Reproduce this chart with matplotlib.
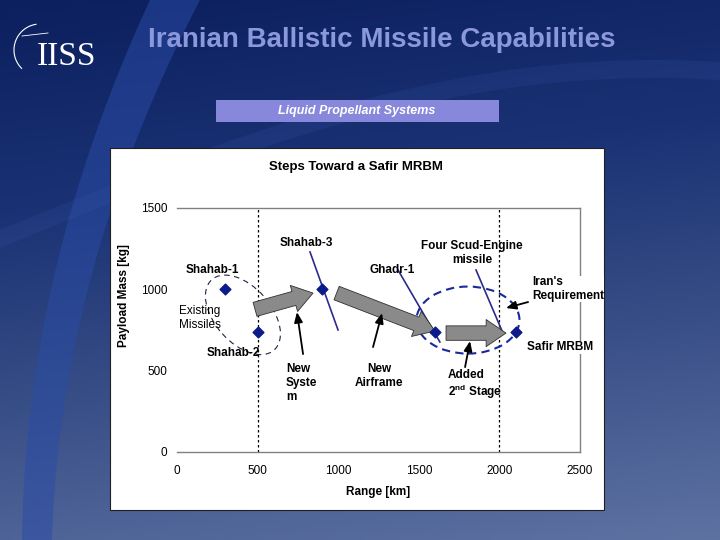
import numpy as np
import matplotlib
matplotlib.use('Agg')
import matplotlib.pyplot as plt
from matplotlib.patches import Ellipse, Rectangle, Polygon
from matplotlib.colors import LinearSegmentedColormap

plt.rcParams['font.family'] = ['Liberation Sans', 'DejaVu Sans']

# Datos de los misiles: alcance [km] y carga util [kg]
missiles = ['Shahab-1', 'Shahab-2', 'Shahab-3', 'Ghadr-1', 'Safir MRBM']
ranges_km = [300, 500, 900, 1600, 2100]
payload_kg = [1000, 740, 1000, 740, 740]

x_ticks = [0, 500, 1000, 1500, 2000, 2500]
y_ticks = [0, 500, 1000, 1500]
ref_ranges = [500, 2000]

navy = '#0c1a8a'
line_blue = '#2b2b8c'

fig = plt.figure(figsize=(7.2, 5.4), dpi=100)

# Fondo de la diapositiva
bg = fig.add_axes([0, 0, 1, 1])
bg.set_xlim(0, 720)
bg.set_ylim(540, 0)
bg.axis('off')
yy, xx = np.mgrid[0:1:200j, 0:1:200j]
grad = np.clip(yy * 0.85 + xx * 0.15, 0, 1)
cmap = LinearSegmentedColormap.from_list('slide', ['#0c1f5e', '#1a3274', '#3a5088', '#5e72a2'])
bg.imshow(grad, extent=[0, 720, 540, 0], cmap=cmap, aspect='auto', zorder=0)

# Curvas decorativas
t = np.linspace(0, 1, 100)
outer_x = 200 * (1 - t) ** 2 + 2 * (1 - t) * t * 60 + t ** 2 * 52
inner_x = 150 * (1 - t) ** 2 + 2 * (1 - t) * t * 25 + t ** 2 * 22
ys = 540 * t
band = np.column_stack([np.r_[outer_x, inner_x[::-1]], np.r_[ys, ys[::-1]]])
bg.add_patch(Polygon(band, closed=True, fc='#2a4ca8', ec='none', alpha=0.5, zorder=1))
arc_x = np.linspace(0, 720, 100)
arc_top = 230 - 170 * np.sin(np.linspace(0, np.pi * 0.55, 100))
arc_bot = arc_top + 18
arc = np.column_stack([np.r_[arc_x, arc_x[::-1]], np.r_[arc_top, arc_bot[::-1]]])
bg.add_patch(Polygon(arc, closed=True, fc='#3a58a8', ec='none', alpha=0.18, zorder=1))

# Logo y titulo
bg.text(66, 57, 'IISS', color='white', fontsize=24, family='Liberation Serif',
        ha='center', va='center', zorder=3)
a = np.linspace(np.pi * 0.55, np.pi * 1.25, 50)
bg.plot(40 + 26 * np.cos(a), 50 - 26 * np.sin(a), color='white', lw=0.8, zorder=3)
bg.plot([22, 48], [36, 33], color='white', lw=0.6, zorder=3)
bg.text(382, 40, 'Iranian Ballistic Missile Capabilities', color='#8c98dc',
        fontsize=20, fontweight='bold', ha='center', va='center', zorder=3)
bg.add_patch(Rectangle((216, 100), 283, 22, fc='#8787dc', ec='none', zorder=2))
bg.text(357, 111, 'Liquid Propellant Systems', color='white', fontsize=9,
        fontweight='bold', style='italic', ha='center', va='center', zorder=3)

# Panel blanco del grafico
bg.add_patch(Rectangle((110, 148), 494, 362, fc='white', ec='#202020', lw=0.8, zorder=2))
fig.text(356 / 720, 1 - 167 / 540, 'Steps Toward a Safir MRBM', fontsize=9.5,
         fontweight='bold', ha='center', va='center')

ax = fig.add_axes([177 / 720, 88 / 540, 403 / 720, 244 / 540])
ax.patch.set_alpha(0)
ax.set_xlim(0, 2500)
ax.set_ylim(0, 1500)
ax.set_xticks(x_ticks)
ax.set_yticks(y_ticks)
ax.tick_params(length=0, labelsize=8.5)
ax.tick_params(axis='x', pad=9)
ax.tick_params(axis='y', pad=7)
ax.spines['left'].set_visible(False)
for s in ['top', 'right', 'bottom']:
    ax.spines[s].set_color('#808080')
    ax.spines[s].set_linewidth(1)
ax.set_xlabel('Range [km]', fontsize=8.5, fontweight='bold', labelpad=7)
ax.set_ylabel('Payload Mass [kg]', fontsize=8.5, fontweight='bold')
ax.yaxis.set_label_coords(-0.117, 0.64)

for r in ref_ranges:
    ax.plot([r, r], [0, 1500], color='black', ls=(0, (2, 2)), lw=0.9, zorder=2)

# Lineas de alcance
ax.plot([825, 999], [1230, 750], color=line_blue, lw=1.2, zorder=3)
ax.plot([1371, 1631], [1119, 676], color=line_blue, lw=1.2, zorder=3)
ax.plot([1855, 2022], [1119, 731], color=line_blue, lw=1.2, zorder=3)

# Elipses
ax.add_patch(Ellipse((409, 843), 580, 345, angle=-48, fill=False, ec='#202040',
                     lw=0.8, ls=(0, (5, 4)), zorder=2))
ax.add_patch(Ellipse((1805, 811), 639, 412, fill=False, ec='#1a2a9a',
                     lw=1.5, ls=(0, (4, 2.5)), zorder=2))

# Flechas grises
block = dict(arrowstyle='simple,head_length=1.1,head_width=1.5,tail_width=0.8',
             fc='#8a8a8a', ec='#303030', lw=0.6, mutation_scale=13, shrinkA=0, shrinkB=0)
for (x0, y0), (x1, y1) in [((484, 877), (844, 977)), ((990, 977), (1600, 744)),
                           ((1669, 731), (2041, 731))]:
    ax.annotate('', xy=(x1, y1), xytext=(x0, y0), arrowprops=block, zorder=4)

# Flechas negras
thin = dict(arrowstyle='-|>,head_length=0.6,head_width=0.25', color='black', lw=1.3,
            mutation_scale=10, shrinkA=0, shrinkB=0)
for (x0, y0), (x1, y1) in [((782, 602), (744, 860)), ((1216, 645), (1272, 854)),
                           ((1787, 522), (1818, 682)), ((2178, 922), (2041, 885))]:
    ax.annotate('', xy=(x1, y1), xytext=(x0, y0), arrowprops=thin, zorder=4)

ax.scatter(ranges_km, payload_kg, marker='D', s=30, color=navy, zorder=5)

# Etiquetas
lab = dict(fontsize=8.5, fontweight='bold', zorder=6)
ax.text(800, 1285, 'Shahab-3', ha='center', va='center', **lab)
ax.text(217, 1119, 'Shahab-1', ha='center', va='center', **lab)
ax.text(1334, 1119, 'Ghadr-1', ha='center', va='center', **lab)
ax.text(1830, 1223, 'Four Scud-Engine\nmissile', ha='center', va='center',
        multialignment='center', linespacing=1.2, **lab)
ax.text(2202, 1002, "Iran's\nRequirement", ha='left', va='center', linespacing=1.2,
        bbox=dict(fc='white', ec='none', pad=0.1), **lab)
ax.text(12, 824, 'Existing\nMissiles', ha='left', va='center', fontsize=8.5,
        linespacing=1.2, zorder=6)
ax.text(347, 608, 'Shahab-2', ha='center', va='center', **lab)
ax.text(2171, 645, 'Safir MRBM', ha='left', va='center',
        bbox=dict(fc='white', ec='none', pad=0.3), **lab)
ax.text(676, 545, 'New\nSyste\nm', ha='left', va='top', linespacing=1.2, **lab)
ax.text(1253, 545, 'New\nAirframe', ha='center', va='top', linespacing=1.2, **lab)
ax.text(1681, 508, 'Added\n2$^{\\mathregular{nd}}$ Stage', ha='left', va='top',
        linespacing=1.1, **lab)

fig.savefig('out.png', dpi=100)
